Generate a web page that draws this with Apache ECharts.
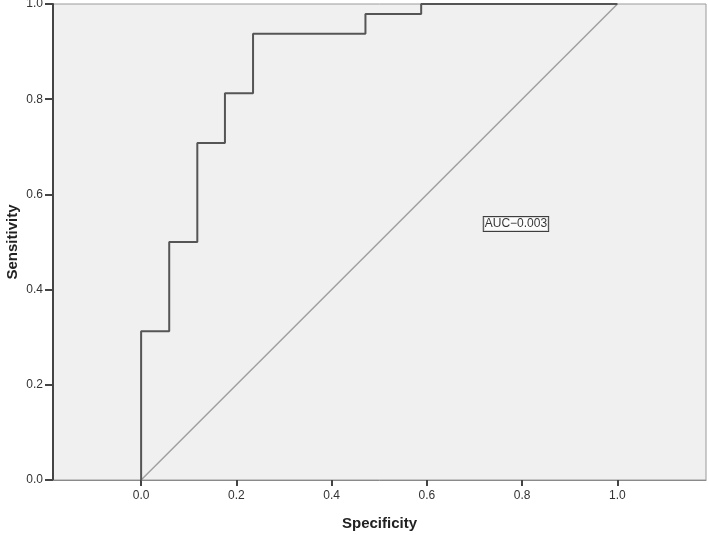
<!DOCTYPE html>
<html>
<head>
<meta charset="utf-8">
<script src="https://cdn.jsdelivr.net/npm/echarts@6/dist/echarts.min.js"></script>
<style>html,body{margin:0;padding:0;background:#fff;}#c{width:709px;height:535px;}</style>
</head>
<body>
<div id="c"></div>
<script>
// ROC curve corner points (1 - specificity, sensitivity)
const rocX = [0, 0, 0.059, 0.059, 0.118, 0.118, 0.176, 0.176, 0.235, 0.235, 0.471, 0.471, 0.588, 0.588, 1.0];
const rocY = [0, 0.3125, 0.3125, 0.5, 0.5, 0.708, 0.708, 0.8125, 0.8125, 0.9375, 0.9375, 0.979, 0.979, 1.0, 1.0];
// Reference diagonal
const refX = [0, 1];
const refY = [0, 1];
const tickValues = [0, 0.2, 0.4, 0.6, 0.8, 1.0];
const aucText = 'AUC\u22120.003';
const aucPos = [0.787, 0.538];

const chart = echarts.init(document.getElementById('c'));
const FONT = 'Liberation Sans, Arial, sans-serif';
chart.setOption({
  animation: false,
  grid: {
    left: 53, right: 3, top: 4, bottom: 55,
    outerBoundsMode: 'none', containLabel: false,
    show: true, backgroundColor: '#f0f0f0', borderColor: '#9a9a9a', borderWidth: 1
  },
  xAxis: {
    type: 'value', min: -0.185, max: 1.186,
    name: 'Specificity', nameLocation: 'middle', nameGap: 36,
    nameTextStyle: { fontFamily: FONT, fontSize: 15, fontWeight: 'bold', color: '#222' },
    axisLine: { show: true, onZero: false, lineStyle: { color: '#8a8a8a', width: 1 } },
    axisTick: { show: true, customValues: tickValues, length: 6, lineStyle: { color: '#444', width: 2 } },
    axisLabel: { customValues: tickValues, formatter: v => v.toFixed(1), fontFamily: FONT, fontSize: 12, color: '#333', margin: 10 },
    splitLine: { show: false }
  },
  yAxis: {
    type: 'value', min: 0, max: 1, interval: 0.2,
    name: 'Sensitivity', nameLocation: 'middle', nameGap: 33, nameMoveOverlap: false,
    nameTextStyle: { fontFamily: FONT, fontSize: 15, fontWeight: 'bold', color: '#222' },
    axisLine: { show: true, onZero: false, lineStyle: { color: '#444', width: 2 } },
    axisTick: { show: true, length: 8, lineStyle: { color: '#444', width: 2 } },
    axisLabel: { formatter: v => v.toFixed(1), fontFamily: FONT, fontSize: 12, color: '#333', margin: 10 },
    splitLine: { show: false }
  },
  series: [
    {
      type: 'line', data: refX.map((x, i) => [x, refY[i]]),
      symbol: 'none', lineStyle: { color: '#a0a0a0', width: 1.5 }, z: 2
    },
    {
      type: 'line', data: rocX.map((x, i) => [x, rocY[i]]),
      symbol: 'none', lineStyle: { color: '#555', width: 2 }, z: 3
    },
    {
      type: 'scatter', data: [aucPos], symbolSize: 0, z: 4,
      label: {
        show: true, position: 'inside', formatter: aucText,
        fontFamily: FONT, fontSize: 12, color: '#000',
        backgroundColor: '#fff', borderColor: '#111', borderWidth: 1, padding: [1, 1, 1, 1]
      }
    }
  ]
});
</script>
</body>
</html>
